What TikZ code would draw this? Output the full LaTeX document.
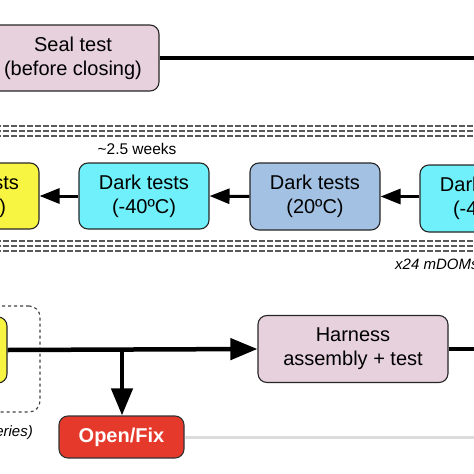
\documentclass[tikz,border=0pt]{standalone}
\usepackage{fontspec}
\setmainfont{Liberation Sans}
\usetikzlibrary{arrows.meta}
\definecolor{sealpink}{HTML}{E6D1DC}
\definecolor{darkcyan}{HTML}{70F0FA}
\definecolor{darkblue}{HTML}{A3C2E3}
\definecolor{testyellow}{HTML}{F8F542}
\definecolor{fixred}{HTML}{E5392B}
\definecolor{fadegray}{HTML}{DCDCDC}
\tikzset{
  box/.style={draw=black!85, line width=1.1pt, rounded corners=9pt, align=center,
    inner sep=0pt, font=\fontsize{20}{24}\selectfont},
  sepline/.style={draw=black!65, line width=1.1pt, dash pattern=on 5.5pt off 2.5pt},
  midarrow/.style={line width=3pt, -{Triangle[length=20pt,width=15pt]}},
  bigarrow/.style={line width=4.5pt, -{Triangle[length=27pt,width=21pt]}},
  plainline/.style={line width=4pt},
}
\begin{document}
\begin{tikzpicture}[x=1pt,y=-1pt]
\useasboundingbox (0,0) rectangle (474,474);
% top row
\node[box, fill=sealpink, minimum width=172pt, minimum height=66pt] (seal) at (73,58) {Seal test\\(before closing)};
\coordinate (sealend) at (490,58);
\draw[plainline] (seal.east) -- (sealend);
% separators
\foreach \yy in {126,131,136,241,246,251}{
  \coordinate (sl\yy) at (-5,\yy);
  \coordinate (sr\yy) at (480,\yy);
  \draw[sepline] (sl\yy) -- (sr\yy);
}
% middle row
\node[box, fill=testyellow, minimum width=130pt, minimum height=66pt] (yel) at (-26,196) {Dark tests\\(-40ºC)};
\node[box, fill=darkcyan, minimum width=130pt, minimum height=66pt] (cyanA) at (144,196) {Dark tests\\(-40ºC)};
\node[box, fill=darkblue, minimum width=130pt, minimum height=67pt] (blueB) at (315,196.5) {Dark tests\\(20ºC)};
\node[box, fill=darkcyan, minimum width=130pt, minimum height=67pt] (cyanC) at (485,198.5) {Dark tests\\(-40ºC)};
\node[font=\fontsize{15.5}{18}\selectfont] (weeks) at (137,149) {\textasciitilde2.5 weeks};
\node[font=\fontsize{15}{18}\selectfont\itshape, anchor=west, inner sep=0pt] (count) at (395,264) {x24 mDOMs};
\draw[midarrow] (cyanA.west) -- (yel.east);
\draw[midarrow] (blueB.west) -- (cyanA.east);
\draw[midarrow] (cyanC.west |- blueB.east) -- (blueB.east);
% bottom row
\node[draw=black!75, line width=1.1pt, dashed, rounded corners=11pt, minimum width=160pt, minimum height=106pt] (group) at (-40,359) {};
\node[box, fill=testyellow, minimum width=127pt, minimum height=66pt] (ybot) at (-56.5,350) {};
\node[font=\fontsize{15}{18}\selectfont\itshape, anchor=east, inner sep=0pt] (series) at (33,433) {(in series)};
\node[box, fill=sealpink, minimum width=190pt, minimum height=67pt] (harness) at (353,349) {Harness\\assembly + test};
\node[box, draw=black!80, fill=fixred, text=white, font=\fontsize{20}{24}\selectfont\bfseries, minimum width=125pt, minimum height=42pt] (fix) at (121.5,437) {Open/Fix};
\coordinate (branch) at (122,349);
\coordinate (hend) at (490,349);
\coordinate (gend) at (490,437);
\draw[fadegray, line width=3pt] (fix.east) -- (gend);
\draw[bigarrow] (ybot.east) -- (harness.west);
\draw[bigarrow] (branch) -- (branch |- fix.north);
\draw[plainline] (harness.east) -- (hend);
\end{tikzpicture}
\end{document}
